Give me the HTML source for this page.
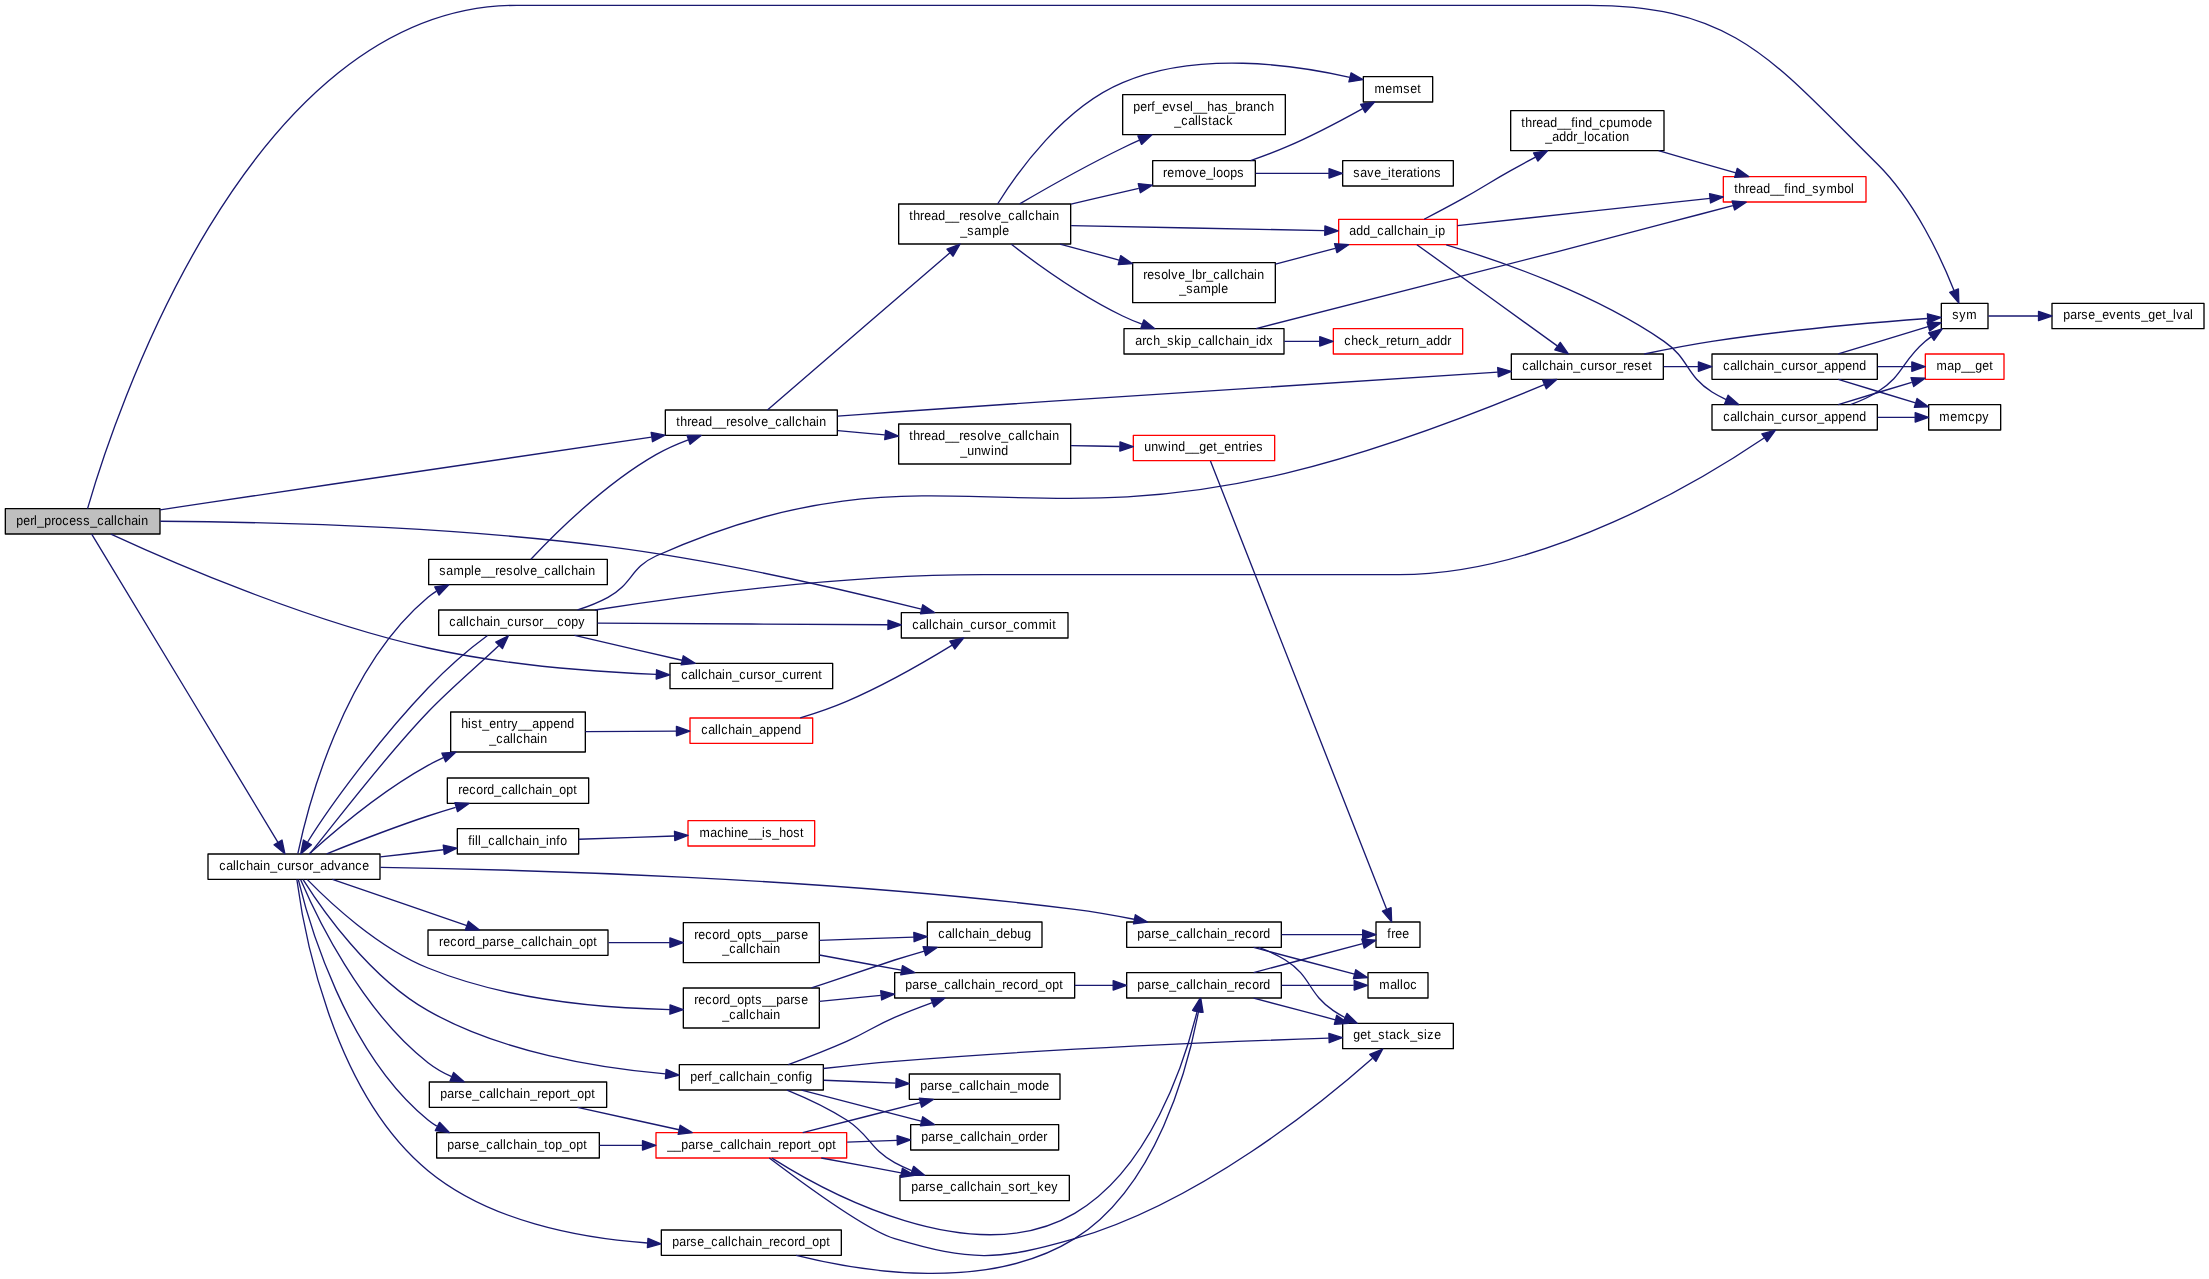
<!DOCTYPE html>
<html><head><meta charset="utf-8"><title>perl_process_callchain</title>
<style>
html,body{margin:0;padding:0;background:#fff;}
body{width:2209px;height:1279px;overflow:hidden;}
svg{display:block;will-change:transform;}
polygon{stroke-linejoin:round;}
text{text-rendering:geometricPrecision;font-family:"Liberation Sans",sans-serif;font-size:13.3333px;fill:#000;}
</style></head><body>
<svg width="2209" height="1279" viewBox="0 0 2209 1279">
<g transform="scale(1.3333333) translate(4.0 955.13)">
<polygon fill="#bfbfbf" stroke="black" points="0,-554.63 0,-573.63 116,-573.63 116,-554.63 0,-554.63"/>
<polygon fill="white" stroke="black" points="495,-628.63 495,-647.63 624,-647.63 624,-628.63 495,-628.63"/>
<path fill="none" stroke="midnightblue" d="M116.05,-572.74C127.93,-574.53 140.37,-576.39 152,-578.13 268.21,-595.45 403.15,-615.32 484.62,-627.29"/>
<polygon fill="midnightblue" stroke="midnightblue" points="484.37,-630.79 494.77,-628.78 485.39,-623.86 484.37,-630.79"/>
<polygon fill="white" stroke="black" points="1452,-708.63 1452,-727.63 1487,-727.63 1487,-708.63 1452,-708.63"/>
<path fill="none" stroke="midnightblue" d="M61.66,-573.69C78.85,-633.29 180.08,-951.13 383.5,-951.13 383.5,-951.13 383.5,-951.13 1187.5,-951.13 1297.3,-951.13 1325.88,-909.29 1404,-832.13 1432.04,-804.43 1451.68,-761.97 1461.44,-737.44"/>
<polygon fill="midnightblue" stroke="midnightblue" points="1464.81,-738.43 1465.12,-727.84 1458.27,-735.92 1464.81,-738.43"/>
<polygon fill="white" stroke="black" points="672,-476.63 672,-495.63 797,-495.63 797,-476.63 672,-476.63"/>
<path fill="none" stroke="midnightblue" d="M116.2,-564.19C192.92,-563.63 333.26,-560.34 452,-545.13 535.69,-534.4 631.55,-512.13 687.05,-498.23"/>
<polygon fill="midnightblue" stroke="midnightblue" points="688.09,-501.57 696.93,-495.73 686.38,-494.79 688.09,-501.57"/>
<polygon fill="white" stroke="black" points="498.5,-438.63 498.5,-457.63 620.5,-457.63 620.5,-438.63 498.5,-438.63"/>
<path fill="none" stroke="midnightblue" d="M79.17,-554.58C121.92,-534.83 225.23,-489.63 317,-469.13 373.75,-456.45 439.59,-451.34 488.18,-449.32"/>
<polygon fill="midnightblue" stroke="midnightblue" points="488.42,-452.82 498.28,-448.94 488.15,-445.82 488.42,-452.82"/>
<polygon fill="white" stroke="black" points="152,-295.63 152,-314.63 281,-314.63 281,-295.63 152,-295.63"/>
<path fill="none" stroke="midnightblue" d="M64.76,-554.6C87.81,-516.45 173.72,-374.28 204.47,-323.39"/>
<polygon fill="midnightblue" stroke="midnightblue" points="207.52,-325.11 209.69,-314.74 201.52,-321.49 207.52,-325.11"/>
<polygon fill="white" stroke="black" points="1129.5,-670.63 1129.5,-689.63 1243.5,-689.63 1243.5,-670.63 1129.5,-670.63"/>
<path fill="none" stroke="midnightblue" d="M624.13,-643.01C638.24,-644.06 653.13,-645.15 667,-646.13 829.53,-657.56 1020.8,-669.78 1119.37,-675.99"/>
<polygon fill="midnightblue" stroke="midnightblue" points="1119.28,-679.49 1129.48,-676.63 1119.72,-672.51 1119.28,-679.49"/>
<polygon fill="white" stroke="black" points="670,-772.13 670,-802.13 799,-802.13 799,-772.13 670,-772.13"/>
<path fill="none" stroke="midnightblue" d="M571.59,-647.68C598.95,-671.24 670.24,-732.64 708.45,-765.55"/>
<polygon fill="midnightblue" stroke="midnightblue" points="706.21,-768.25 716.08,-772.12 710.78,-762.94 706.21,-768.25"/>
<polygon fill="white" stroke="black" points="670,-607.13 670,-637.13 799,-637.13 799,-607.13 670,-607.13"/>
<path fill="none" stroke="midnightblue" d="M624.43,-632.22C635.89,-631.16 647.93,-630.04 659.64,-628.96"/>
<polygon fill="midnightblue" stroke="midnightblue" points="660.2,-632.42 669.84,-628.02 659.56,-625.45 660.2,-632.42"/>
<polygon fill="white" stroke="black" points="1280,-670.63 1280,-689.63 1404,-689.63 1404,-670.63 1280,-670.63"/>
<path fill="none" stroke="midnightblue" d="M1243.79,-680.13C1252.21,-680.13 1260.99,-680.13 1269.68,-680.13"/>
<polygon fill="midnightblue" stroke="midnightblue" points="1269.81,-683.63 1279.81,-680.13 1269.81,-676.63 1269.81,-683.63"/>
<path fill="none" stroke="midnightblue" d="M1229.24,-689.64C1245.07,-693.01 1263.31,-696.58 1280,-699.13 1337.16,-707.86 1404.72,-713.56 1441.43,-716.27"/>
<polygon fill="midnightblue" stroke="midnightblue" points="1441.56,-719.79 1451.79,-717.02 1442.06,-712.81 1441.56,-719.79"/>
<polygon fill="white" stroke="red" points="1440,-670.63 1440,-689.63 1499,-689.63 1499,-670.63 1440,-670.63"/>
<path fill="none" stroke="midnightblue" d="M1404.28,-680.13C1412.93,-680.13 1421.62,-680.13 1429.69,-680.13"/>
<polygon fill="midnightblue" stroke="midnightblue" points="1429.88,-683.63 1439.88,-680.13 1429.88,-676.63 1429.88,-683.63"/>
<path fill="none" stroke="midnightblue" d="M1374.67,-689.72C1395.47,-696.02 1422.38,-704.16 1442.04,-710.12"/>
<polygon fill="midnightblue" stroke="midnightblue" points="1441.27,-713.54 1451.86,-713.09 1443.3,-706.84 1441.27,-713.54"/>
<polygon fill="white" stroke="black" points="1442.5,-632.63 1442.5,-651.63 1496.5,-651.63 1496.5,-632.63 1442.5,-632.63"/>
<path fill="none" stroke="midnightblue" d="M1374.67,-670.54C1392.31,-665.2 1414.35,-658.53 1432.63,-652.99"/>
<polygon fill="midnightblue" stroke="midnightblue" points="1433.79,-656.3 1442.34,-650.05 1431.76,-649.6 1433.79,-656.3"/>
<polygon fill="white" stroke="black" points="1535,-708.63 1535,-727.63 1649,-727.63 1649,-708.63 1535,-708.63"/>
<path fill="none" stroke="midnightblue" d="M1487.26,-718.13C1497.3,-718.13 1510.79,-718.13 1524.72,-718.13"/>
<polygon fill="midnightblue" stroke="midnightblue" points="1524.9,-721.63 1534.9,-718.13 1524.9,-714.63 1524.9,-721.63"/>
<polygon fill="white" stroke="black" points="838,-854.13 838,-884.13 960,-884.13 960,-854.13 838,-854.13"/>
<path fill="none" stroke="midnightblue" d="M760.77,-802.23C781.26,-814.22 811.06,-831.08 838,-844.13 842.05,-846.09 846.3,-848.05 850.58,-849.96"/>
<polygon fill="midnightblue" stroke="midnightblue" points="849.38,-853.25 859.94,-854.03 852.17,-846.83 849.38,-853.25"/>
<polygon fill="white" stroke="black" points="845.5,-728.13 845.5,-758.13 952.5,-758.13 952.5,-728.13 845.5,-728.13"/>
<path fill="none" stroke="midnightblue" d="M790.97,-772.11C805.24,-768.25 820.69,-764.06 835.3,-760.11"/>
<polygon fill="midnightblue" stroke="midnightblue" points="836.51,-763.4 845.25,-757.41 834.68,-756.65 836.51,-763.4"/>
<polygon fill="white" stroke="red" points="1000,-771.63 1000,-790.63 1089,-790.63 1089,-771.63 1000,-771.63"/>
<path fill="none" stroke="midnightblue" d="M799.32,-785.88C855.48,-784.79 936.36,-783.22 989.4,-782.18"/>
<polygon fill="midnightblue" stroke="midnightblue" points="989.7,-785.68 999.63,-781.98 989.56,-778.68 989.7,-785.68"/>
<polygon fill="white" stroke="black" points="839,-689.63 839,-708.63 959,-708.63 959,-689.63 839,-689.63"/>
<path fill="none" stroke="midnightblue" d="M754.52,-771.87C774.37,-756.56 806.9,-733.14 838,-718.13 842.62,-715.9 847.56,-713.85 852.55,-711.99"/>
<polygon fill="midnightblue" stroke="midnightblue" points="853.85,-715.24 862.13,-708.64 851.54,-708.63 853.85,-715.24"/>
<polygon fill="white" stroke="black" points="1018.5,-878.63 1018.5,-897.63 1070.5,-897.63 1070.5,-878.63 1018.5,-878.63"/>
<path fill="none" stroke="midnightblue" d="M744.18,-802.14C759.46,-826.62 793.76,-874.64 838.00,-893.15 893.80,-916.98 966.10,-906.74 1008.39,-897.10"/>
<polygon fill="midnightblue" stroke="midnightblue" points="1009.31,-900.48 1018.21,-895.40 1007.67,-893.68 1009.31,-900.48"/>
<polygon fill="white" stroke="black" points="860.5,-815.63 860.5,-834.63 937.5,-834.63 937.5,-815.63 860.5,-815.63"/>
<path fill="none" stroke="midnightblue" d="M799.26,-802.04C816.18,-805.99 834.16,-810.2 850.08,-813.92"/>
<polygon fill="midnightblue" stroke="midnightblue" points="849.68,-817.42 860.21,-816.29 851.27,-810.61 849.68,-817.42"/>
<path fill="none" stroke="midnightblue" d="M952.62,-757.06C967.29,-760.95 983.12,-765.14 997.39,-768.92"/>
<polygon fill="midnightblue" stroke="midnightblue" points="996.91,-772.41 1007.47,-771.59 998.7,-765.64 996.91,-772.41"/>
<path fill="none" stroke="midnightblue" d="M1058.67,-771.63C1082.85,-754.18 1134.54,-716.89 1163.92,-695.7"/>
<polygon fill="midnightblue" stroke="midnightblue" points="1166.2,-698.37 1172.26,-689.68 1162.1,-692.69 1166.2,-698.37"/>
<polygon fill="white" stroke="black" points="1129,-842.13 1129,-872.13 1244,-872.13 1244,-842.13 1129,-842.13"/>
<path fill="none" stroke="midnightblue" d="M1064.1,-790.68C1072.91,-795.26 1083.55,-800.89 1093,-806.13 1109.2,-815.11 1112.82,-818.12 1129,-827.13 1135,-830.47 1141.39,-833.94 1147.64,-837.3"/>
<polygon fill="midnightblue" stroke="midnightblue" points="1146.17,-840.47 1156.64,-842.09 1149.46,-834.3 1146.17,-840.47"/>
<polygon fill="white" stroke="red" points="1288.5,-803.63 1288.5,-822.63 1395.5,-822.63 1395.5,-803.63 1288.5,-803.63"/>
<path fill="none" stroke="midnightblue" d="M1089.1,-785.85C1139.16,-791.27 1221.66,-800.2 1278.53,-806.36"/>
<polygon fill="midnightblue" stroke="midnightblue" points="1278.16,-809.84 1288.48,-807.44 1278.92,-802.88 1278.16,-809.84"/>
<polygon fill="white" stroke="black" points="1280,-632.63 1280,-651.63 1404,-651.63 1404,-632.63 1280,-632.63"/>
<path fill="none" stroke="midnightblue" d="M1080.7,-771.52C1122.19,-759.12 1192.07,-734.82 1244,-699.13 1263.17,-685.95 1260.25,-673.43 1280,-661.13 1283.35,-659.04 1286.94,-657.17 1290.65,-655.49"/>
<polygon fill="midnightblue" stroke="midnightblue" points="1292.06,-658.7 1300.02,-651.71 1289.44,-652.21 1292.06,-658.7"/>
<path fill="none" stroke="midnightblue" d="M1239.9,-842.11C1258.8,-836.69 1279.91,-830.64 1297.93,-825.47"/>
<polygon fill="midnightblue" stroke="midnightblue" points="1298.94,-828.83 1307.58,-822.71 1297.01,-822.1 1298.94,-828.83"/>
<path fill="none" stroke="midnightblue" d="M1374.67,-651.72C1391.42,-656.79 1412.13,-663.06 1429.83,-668.42"/>
<polygon fill="midnightblue" stroke="midnightblue" points="1429.26,-671.9 1439.85,-671.45 1431.29,-665.2 1429.26,-671.9"/>
<path fill="none" stroke="midnightblue" d="M1383.98,-651.71C1390.94,-654.21 1397.88,-657.32 1404,-661.13 1423.75,-673.43 1422.21,-684.14 1440,-699.13 1441.34,-700.26 1442.76,-701.39 1444.21,-702.49"/>
<polygon fill="midnightblue" stroke="midnightblue" points="1442.48,-705.55 1452.66,-708.48 1446.53,-699.84 1442.48,-705.55"/>
<path fill="none" stroke="midnightblue" d="M1404.28,-642.13C1413.83,-642.13 1423.43,-642.13 1432.19,-642.13"/>
<polygon fill="midnightblue" stroke="midnightblue" points="1432.4,-645.63 1442.4,-642.13 1432.4,-638.63 1432.4,-645.63"/>
<path fill="none" stroke="midnightblue" d="M938.05,-708.68C1002.90,-725.06 1133.70,-758.11 1244.00,-787.40 1260.37,-791.67 1279.19,-796.53 1295.64,-800.90"/>
<polygon fill="midnightblue" stroke="midnightblue" points="1295.09,-804.37 1305.67,-803.56 1296.98,-797.64 1295.09,-804.37"/>
<polygon fill="white" stroke="red" points="996,-689.63 996,-708.63 1093,-708.63 1093,-689.63 996,-689.63"/>
<path fill="none" stroke="midnightblue" d="M959.2,-699.13C967.96,-699.13 976.99,-699.13 985.73,-699.13"/>
<polygon fill="midnightblue" stroke="midnightblue" points="985.82,-702.63 995.82,-699.13 985.82,-695.63 985.82,-702.63"/>
<path fill="none" stroke="midnightblue" d="M933.96,-834.71C942.88,-837.76 952.49,-841.33 961.20,-845.13 980.79,-853.54 1002.02,-864.81 1018.00,-873.70"/>
<polygon fill="midnightblue" stroke="midnightblue" points="1016.47,-876.85 1026.91,-878.62 1019.85,-870.72 1016.47,-876.85"/>
<polygon fill="white" stroke="black" points="1003,-815.63 1003,-834.63 1086,-834.63 1086,-815.63 1003,-815.63"/>
<path fill="none" stroke="midnightblue" d="M937.7,-825.13C954.51,-825.13 974.56,-825.13 992.67,-825.13"/>
<polygon fill="midnightblue" stroke="midnightblue" points="992.78,-828.63 1002.78,-825.13 992.78,-821.63 992.78,-828.63"/>
<polygon fill="white" stroke="red" points="846,-609.63 846,-628.63 952,-628.63 952,-609.63 846,-609.63"/>
<path fill="none" stroke="midnightblue" d="M799.26,-620.95C811.22,-620.73 823.72,-620.5 835.64,-620.28"/>
<polygon fill="midnightblue" stroke="midnightblue" points="836.01,-623.77 845.95,-620.09 835.88,-616.77 836.01,-623.77"/>
<polygon fill="white" stroke="black" points="1028,-244.63 1028,-263.63 1061,-263.63 1061,-244.63 1028,-244.63"/>
<path fill="none" stroke="midnightblue" d="M903.84,-609.36C923.13,-560.29 1009.64,-340.25 1035.91,-273.43"/>
<polygon fill="midnightblue" stroke="midnightblue" points="1039.31,-274.34 1039.72,-263.75 1032.8,-271.78 1039.31,-274.34"/>
<polygon fill="white" stroke="black" points="325,-478.63 325,-497.63 444,-497.63 444,-478.63 325,-478.63"/>
<path fill="none" stroke="midnightblue" d="M228.32,-314.82C245.76,-335.8 281.73,-384.24 317,-421.13 334.17,-439.09 356.27,-457.57 370.17,-470.99"/>
<polygon fill="midnightblue" stroke="midnightblue" points="367.8,-473.58 377.3,-478.27 372.8,-468.68 367.8,-473.58"/>
<polygon fill="white" stroke="black" points="317,-238.63 317,-257.63 452,-257.63 452,-238.63 317,-238.63"/>
<path fill="none" stroke="midnightblue" d="M245.28,-295.59C272.93,-286.09 315.55,-271.46 346.15,-260.95"/>
<polygon fill="midnightblue" stroke="midnightblue" points="347.3,-264.26 355.62,-257.7 345.03,-257.64 347.3,-264.26"/>
<polygon fill="white" stroke="black" points="331.5,-352.63 331.5,-371.63 437.5,-371.63 437.5,-352.63 331.5,-352.63"/>
<path fill="none" stroke="midnightblue" d="M241.02,-314.77C261.05,-322.82 290.68,-334.36 317,-343.13 323.66,-345.35 330.74,-347.54 337.71,-349.61"/>
<polygon fill="midnightblue" stroke="midnightblue" points="337.2,-353.11 347.78,-352.54 339.15,-346.38 337.2,-353.11"/>
<polygon fill="white" stroke="black" points="508.5,-184.13 508.5,-214.13 610.5,-214.13 610.5,-184.13 508.5,-184.13"/>
<path fill="none" stroke="midnightblue" d="M226.56,-295.43C242.86,-278.69 278.97,-244.67 317,-229.13 375.54,-205.2 448.19,-199 498.43,-197.97"/>
<polygon fill="midnightblue" stroke="midnightblue" points="498.54,-201.47 508.49,-197.83 498.44,-194.47 498.54,-201.47"/>
<polygon fill="white" stroke="black" points="317.5,-516.63 317.5,-535.63 451.5,-535.63 451.5,-516.63 317.5,-516.63"/>
<path fill="none" stroke="midnightblue" d="M219.37,-314.87C226.15,-347.39 252.48,-453.26 317,-507.13 319.02,-508.81 321.17,-510.35 323.43,-511.74"/>
<polygon fill="midnightblue" stroke="midnightblue" points="322.08,-514.99 332.57,-516.49 325.31,-508.78 322.08,-514.99"/>
<polygon fill="white" stroke="black" points="334,-391.13 334,-421.13 435,-421.13 435,-391.13 334,-391.13"/>
<path fill="none" stroke="midnightblue" d="M227.82,-314.67C245.13,-330.29 281.63,-361.53 317,-381.13 320.7,-383.18 324.61,-385.13 328.59,-386.97"/>
<polygon fill="midnightblue" stroke="midnightblue" points="327.42,-390.27 337.98,-391.06 330.21,-383.86 327.42,-390.27"/>
<polygon fill="white" stroke="black" points="339,-314.63 339,-333.63 430,-333.63 430,-314.63 339,-314.63"/>
<path fill="none" stroke="midnightblue" d="M281.21,-312.42C296.81,-314.2 313.37,-316.1 328.52,-317.84"/>
<polygon fill="midnightblue" stroke="midnightblue" points="328.42,-321.35 338.76,-319.01 329.22,-314.39 328.42,-321.35"/>
<polygon fill="white" stroke="black" points="841,-244.63 841,-263.63 957,-263.63 957,-244.63 841,-244.63"/>
<path fill="none" stroke="midnightblue" d="M281.33,-304.57C389.08,-302.96 613.69,-296.8 802,-273.13 816.51,-271.3 832.13,-268.56 846.45,-265.71"/>
<polygon fill="midnightblue" stroke="midnightblue" points="847.53,-269.07 856.62,-263.64 846.13,-262.21 847.53,-269.07"/>
<polygon fill="white" stroke="black" points="492,-13.63 492,-32.63 627,-32.63 627,-13.63 492,-13.63"/>
<path fill="none" stroke="midnightblue" d="M218.62,-295.51C223.28,-260.25 244.37,-137.03 317,-77.13 362.91,-39.26 429.84,-26.57 481.6,-22.88"/>
<polygon fill="midnightblue" stroke="midnightblue" points="481.98,-26.37 491.74,-22.26 481.55,-19.38 481.98,-26.37"/>
<polygon fill="white" stroke="black" points="318,-124.63 318,-143.63 451,-143.63 451,-124.63 318,-124.63"/>
<path fill="none" stroke="midnightblue" d="M221.51,-295.34C232.67,-269.23 266.65,-197.29 317,-158.13 322.34,-153.98 328.46,-150.5 334.78,-147.6"/>
<polygon fill="midnightblue" stroke="midnightblue" points="336.2,-150.8 344.11,-143.75 333.53,-144.33 336.2,-150.8"/>
<polygon fill="white" stroke="black" points="323.5,-86.63 323.5,-105.63 445.5,-105.63 445.5,-86.63 323.5,-86.63"/>
<path fill="none" stroke="midnightblue" d="M219.67,-295.53C227.19,-264.41 255.21,-165.44 317,-115.13 319.08,-113.44 321.3,-111.9 323.62,-110.49"/>
<polygon fill="midnightblue" stroke="midnightblue" points="325.67,-113.38 333,-105.73 322.5,-107.14 325.67,-113.38"/>
<polygon fill="white" stroke="black" points="505.5,-137.63 505.5,-156.63 613.5,-156.63 613.5,-137.63 505.5,-137.63"/>
<path fill="none" stroke="midnightblue" d="M223.33,-295.49C236.86,-274.04 272.63,-222.25 317,-197.13 372.07,-165.94 444.06,-154.1 495.07,-149.66"/>
<polygon fill="midnightblue" stroke="midnightblue" points="495.61,-153.13 505.3,-148.84 495.06,-146.15 495.61,-153.13"/>
<path fill="none" stroke="midnightblue" d="M429.14,-497.66C436.99,-500.19 444.92,-503.31 452,-507.13 470.58,-517.15 468.73,-529.5 488,-538.13 681.13,-624.55 754.27,-550.71 960,-600.13 1031.2,-617.23 1111.26,-648.71 1154.22,-666.66"/>
<polygon fill="midnightblue" stroke="midnightblue" points="1152.99,-669.94 1163.57,-670.59 1155.71,-663.49 1152.99,-669.94"/>
<path fill="none" stroke="midnightblue" d="M442.28,-497.63C511.02,-508.3 630.4,-524.13 733.5,-524.13 733.5,-524.13 733.5,-524.13 1045.5,-524.13 1155,-524.13 1272.1,-594.88 1319.37,-626.81"/>
<polygon fill="midnightblue" stroke="midnightblue" points="1317.4,-629.7 1327.62,-632.47 1321.36,-623.93 1317.4,-629.7"/>
<path fill="none" stroke="midnightblue" d="M444.14,-487.79C504.17,-487.45 597.55,-486.91 661.91,-486.54"/>
<polygon fill="midnightblue" stroke="midnightblue" points="662,-490.04 671.98,-486.48 661.96,-483.04 662,-490.04"/>
<path fill="none" stroke="midnightblue" d="M426.94,-478.55C451.12,-472.96 481.82,-465.86 507.48,-459.93"/>
<polygon fill="midnightblue" stroke="midnightblue" points="508.45,-463.29 517.4,-457.63 506.87,-456.47 508.45,-463.29"/>
<path fill="none" stroke="midnightblue" d="M361.64,-478.54C348.22,-468.71 330.97,-453.74 317,-439.13 280.64,-401.09 243.53,-350.79 226.75,-323.62"/>
<polygon fill="midnightblue" stroke="midnightblue" points="229.6,-321.58 221.52,-314.72 223.57,-325.12 229.6,-321.58"/>
<polygon fill="white" stroke="black" points="508.5,-233.13 508.5,-263.13 610.5,-263.13 610.5,-233.13 508.5,-233.13"/>
<path fill="none" stroke="midnightblue" d="M452.39,-248.13C467.53,-248.13 483.52,-248.13 498.36,-248.13"/>
<polygon fill="midnightblue" stroke="midnightblue" points="498.43,-251.63 508.43,-248.13 498.43,-244.63 498.43,-251.63"/>
<polygon fill="white" stroke="black" points="667,-206.63 667,-225.63 802,-225.63 802,-206.63 667,-206.63"/>
<path fill="none" stroke="midnightblue" d="M610.54,-238.87C629.75,-235.32 651.89,-231.22 672.05,-227.49"/>
<polygon fill="midnightblue" stroke="midnightblue" points="672.88,-230.9 682.07,-225.64 671.6,-224.02 672.88,-230.9"/>
<polygon fill="white" stroke="black" points="691.5,-244.63 691.5,-263.63 777.5,-263.63 777.5,-244.63 691.5,-244.63"/>
<path fill="none" stroke="midnightblue" d="M610.54,-249.86C632.78,-250.63 658.96,-251.54 681.43,-252.32"/>
<polygon fill="midnightblue" stroke="midnightblue" points="681.35,-255.82 691.46,-252.67 681.59,-248.83 681.35,-255.82"/>
<polygon fill="white" stroke="black" points="841,-206.63 841,-225.63 957,-225.63 957,-206.63 841,-206.63"/>
<path fill="none" stroke="midnightblue" d="M802.06,-216.13C811.53,-216.13 821.26,-216.13 830.74,-216.13"/>
<polygon fill="midnightblue" stroke="midnightblue" points="830.89,-219.63 840.89,-216.13 830.89,-212.63 830.89,-219.63"/>
<path fill="none" stroke="midnightblue" d="M936.21,-225.72C961.73,-232.47 995.27,-241.36 1018.01,-247.38"/>
<polygon fill="midnightblue" stroke="midnightblue" points="1017.36,-250.83 1027.92,-250 1019.15,-244.06 1017.36,-250.83"/>
<polygon fill="white" stroke="black" points="1022,-206.63 1022,-225.63 1067,-225.63 1067,-206.63 1022,-206.63"/>
<path fill="none" stroke="midnightblue" d="M957.13,-216.13C975.54,-216.13 995.3,-216.13 1011.27,-216.13"/>
<polygon fill="midnightblue" stroke="midnightblue" points="1011.65,-219.63 1021.65,-216.13 1011.65,-212.63 1011.65,-219.63"/>
<polygon fill="white" stroke="black" points="1003,-168.63 1003,-187.63 1086,-187.63 1086,-168.63 1003,-168.63"/>
<path fill="none" stroke="midnightblue" d="M936.21,-206.54C954.82,-201.61 977.7,-195.55 997.54,-190.3"/>
<polygon fill="midnightblue" stroke="midnightblue" points="998.53,-193.66 1007.3,-187.71 996.74,-186.89 998.53,-193.66"/>
<path fill="none" stroke="midnightblue" d="M610.54,-204.04C624.95,-205.46 641.01,-207.04 656.64,-208.58"/>
<polygon fill="midnightblue" stroke="midnightblue" points="656.54,-212.08 666.83,-209.58 657.22,-205.12 656.54,-212.08"/>
<path fill="none" stroke="midnightblue" d="M604.59,-214.14C631,-223.12 660.66,-233.15 667,-235.13 674.17,-237.36 681.81,-239.64 689.26,-241.81"/>
<polygon fill="midnightblue" stroke="midnightblue" points="688.31,-245.18 698.89,-244.58 690.25,-238.45 688.31,-245.18"/>
<path fill="none" stroke="midnightblue" d="M394.18,-535.69C410.79,-553.46 448.89,-591.8 488,-614.13 495.51,-618.41 503.9,-622.1 512.2,-625.2"/>
<polygon fill="midnightblue" stroke="midnightblue" points="511.26,-628.58 521.85,-628.58 513.57,-621.97 511.26,-628.58"/>
<polygon fill="white" stroke="red" points="513.5,-397.63 513.5,-416.63 605.5,-416.63 605.5,-397.63 513.5,-397.63"/>
<path fill="none" stroke="midnightblue" d="M435.07,-406.41C456.37,-406.54 481.33,-406.68 503.21,-406.81"/>
<polygon fill="midnightblue" stroke="midnightblue" points="503.33,-410.31 513.35,-406.87 503.37,-403.31 503.33,-410.31"/>
<path fill="none" stroke="midnightblue" d="M596.16,-416.7C607.47,-420.15 619.92,-424.38 631,-429.13 659.24,-441.23 689.8,-458.87 710.13,-471.31"/>
<polygon fill="midnightblue" stroke="midnightblue" points="708.37,-474.34 718.71,-476.63 712.05,-468.39 708.37,-474.34"/>
<polygon fill="white" stroke="red" points="512,-320.63 512,-339.63 607,-339.63 607,-320.63 512,-320.63"/>
<path fill="none" stroke="midnightblue" d="M430.05,-325.67C451.94,-326.43 478.56,-327.36 501.88,-328.16"/>
<polygon fill="midnightblue" stroke="midnightblue" points="501.87,-331.67 511.98,-328.51 502.11,-324.67 501.87,-331.67"/>
<path fill="none" stroke="midnightblue" d="M957.13,-254.13C978.16,-254.13 1000.94,-254.13 1017.82,-254.13"/>
<polygon fill="midnightblue" stroke="midnightblue" points="1017.99,-257.63 1027.99,-254.13 1017.99,-250.63 1017.99,-257.63"/>
<path fill="none" stroke="midnightblue" d="M936.21,-244.54C959.54,-238.36 989.57,-230.41 1011.93,-224.49"/>
<polygon fill="midnightblue" stroke="midnightblue" points="1012.84,-227.87 1021.61,-221.93 1011.05,-221.1 1012.84,-227.87"/>
<path fill="none" stroke="midnightblue" d="M939.99,-244.59C946.94,-242.07 953.89,-238.96 960,-235.13 979.72,-222.78 976.75,-210.2 996,-197.13 998.72,-195.28 1001.64,-193.57 1004.66,-192"/>
<polygon fill="midnightblue" stroke="midnightblue" points="1006.29,-195.1 1013.86,-187.68 1003.32,-188.76 1006.29,-195.1"/>
<path fill="none" stroke="midnightblue" d="M593.14,-13.61C642.5,-1.26 737.25,14.26 802,-26.13 863.63,-64.57 887.21,-155.96 894.84,-196.35"/>
<polygon fill="midnightblue" stroke="midnightblue" points="891.41,-197.06 896.59,-206.3 898.31,-195.85 891.41,-197.06"/>
<polygon fill="white" stroke="red" points="488,-86.63 488,-105.63 631,-105.63 631,-86.63 488,-86.63"/>
<path fill="none" stroke="midnightblue" d="M429.16,-124.54C452.29,-119.46 480.9,-113.17 505.33,-107.81"/>
<polygon fill="midnightblue" stroke="midnightblue" points="506.14,-111.21 515.16,-105.65 504.64,-104.37 506.14,-111.21"/>
<path fill="none" stroke="midnightblue" d="M574.96,-86.49C614.26,-61.61 725.26,-0.21 802,-45.13 858.72,-78.33 884.48,-158.68 893.73,-196.21"/>
<polygon fill="midnightblue" stroke="midnightblue" points="890.42,-197.42 896.08,-206.38 897.24,-195.84 890.42,-197.42"/>
<path fill="none" stroke="midnightblue" d="M572.96,-86.61C596.4,-68.93 646.54,-32.25 667,-26.13 724.48,-8.93 744.35,-9.5 802,-26.13 895.37,-53.07 987.45,-127.97 1025.39,-161.51"/>
<polygon fill="midnightblue" stroke="midnightblue" points="1023.26,-164.31 1033.05,-168.37 1027.94,-159.09 1023.26,-164.31"/>
<polygon fill="white" stroke="black" points="678,-130.63 678,-149.63 791,-149.63 791,-130.63 678,-130.63"/>
<path fill="none" stroke="midnightblue" d="M598.04,-105.68C623.88,-112.25 658.42,-121.03 686.15,-128.09"/>
<polygon fill="midnightblue" stroke="midnightblue" points="685.48,-131.53 696.03,-130.6 687.21,-124.74 685.48,-131.53"/>
<polygon fill="white" stroke="black" points="679,-92.63 679,-111.63 790,-111.63 790,-92.63 679,-92.63"/>
<path fill="none" stroke="midnightblue" d="M631.36,-98.59C643.76,-99.02 656.59,-99.46 668.81,-99.88"/>
<polygon fill="midnightblue" stroke="midnightblue" points="668.79,-103.39 678.9,-100.23 669.03,-96.39 668.79,-103.39"/>
<polygon fill="white" stroke="black" points="671,-54.63 671,-73.63 798,-73.63 798,-54.63 671,-54.63"/>
<path fill="none" stroke="midnightblue" d="M611.94,-86.61C630.77,-83.13 652.26,-79.15 671.89,-75.52"/>
<polygon fill="midnightblue" stroke="midnightblue" points="672.77,-78.92 681.96,-73.66 671.49,-72.04 672.77,-78.92"/>
<path fill="none" stroke="midnightblue" d="M445.52,-96.13C455.88,-96.13 466.79,-96.13 477.59,-96.13"/>
<polygon fill="midnightblue" stroke="midnightblue" points="477.88,-99.63 487.88,-96.13 477.88,-92.63 477.88,-99.63"/>
<path fill="none" stroke="midnightblue" d="M587.2,-156.65C600.49,-161.57 616.73,-167.84 631,-174.13 647.37,-181.34 650.56,-185.08 667,-192.13 676.04,-196 685.94,-199.81 695.28,-203.2"/>
<polygon fill="midnightblue" stroke="midnightblue" points="694.14,-206.51 704.74,-206.58 696.49,-199.92 694.14,-206.51"/>
<path fill="none" stroke="midnightblue" d="M613.53,-153.76C630.58,-155.71 649.57,-157.71 667,-159.13 783.26,-168.6 920.14,-174.09 992.57,-176.56"/>
<polygon fill="midnightblue" stroke="midnightblue" points="992.66,-180.06 1002.77,-176.9 992.9,-173.07 992.66,-180.06"/>
<path fill="none" stroke="midnightblue" d="M613.82,-144.97C630.83,-144.28 649.86,-143.51 667.66,-142.79"/>
<polygon fill="midnightblue" stroke="midnightblue" points="668.11,-146.28 677.97,-142.37 667.83,-139.28 668.11,-146.28"/>
<path fill="none" stroke="midnightblue" d="M597.19,-137.58C623.34,-130.78 658.7,-121.59 686.85,-114.26"/>
<polygon fill="midnightblue" stroke="midnightblue" points="688.07,-117.56 696.86,-111.66 686.3,-110.79 688.07,-117.56"/>
<path fill="none" stroke="midnightblue" d="M586.26,-137.62C600.05,-132 617.03,-124.21 631,-115.13 648.95,-103.46 648.24,-93.44 667,-83.13 671.02,-80.92 675.31,-78.95 679.71,-77.19"/>
<polygon fill="midnightblue" stroke="midnightblue" points="681.24,-80.37 689.46,-73.68 678.86,-73.78 681.24,-80.37"/>
</g>
<g>
<text transform="matrix(0.9300 0 0 1 5.787 0)" x="11.25 18.77 26.19 30.45 33.83 41.35 48.77 53.18 60.71 68.23 75.76 83.29 90.82 98.34 105.87 113.25 116.47 119.85 127.37 134.90 142.28 145.65" y="525.00">perl_process_callchain</text>
<text transform="matrix(0.9300 0 0 1 52.593 0)" x="670.48 674.89 682.31 686.72 694.25 701.78 709.30 716.83 724.24 728.66 736.18 743.71 751.09 754.46 761.99 769.52 777.04 784.57 791.95 795.17 798.55 806.08 813.60 820.98 824.36" y="426.00">thread__resolve_callchain</text>
<text transform="matrix(0.9300 0 0 1 137.527 0)" x="1951.31 1958.84 1966.51" y="319.00">sym</text>
<text transform="matrix(0.9300 0 0 1 68.927 0)" x="906.79 914.32 921.70 924.92 928.30 935.83 943.35 950.73 954.11 961.63 969.16 976.69 984.10 988.51 996.04 1003.46 1007.87 1015.40 1022.92 1030.60 1042.43 1053.96 1057.22" y="629.00">callchain_cursor_commit</text>
<text transform="matrix(0.9300 0 0 1 52.593 0)" x="675.97 683.50 690.87 694.10 697.47 705.00 712.53 719.91 723.28 730.81 738.34 745.86 753.28 757.69 765.22 772.63 777.04 784.57 792.10 799.51 803.81 808.23 815.75 823.17" y="679.00">callchain_cursor_current</text>
<text transform="matrix(0.9300 0 0 1 20.580 0)" x="213.62 221.15 228.52 231.75 235.12 242.65 250.18 257.55 260.93 268.46 275.98 283.51 290.92 295.34 302.87 310.28 314.69 322.22 329.75 337.27 344.80 352.33 359.85 367.38" y="870.00">callchain_cursor_advance</text>
<text transform="matrix(0.9300 0 0 1 111.113 0)" x="1517.35 1524.87 1532.25 1535.47 1538.85 1546.38 1553.91 1561.28 1564.66 1572.18 1579.71 1587.24 1594.65 1599.07 1606.59 1614.01 1618.42 1625.84 1630.25 1637.78 1645.30 1652.72" y="370.00">callchain_cursor_reset</text>
<text transform="matrix(0.9300 0 0 1 68.927 0)" x="903.46 907.87 915.28 919.70 927.22 934.75 942.28 949.80 957.22 961.63 969.16 976.69 984.06 987.44 994.97 1002.49 1010.02 1017.55 1024.92 1028.15 1031.53 1039.05 1046.58 1053.96 1057.33" y="220.00">thread__resolve_callchain</text>
<text transform="matrix(0.9300 0 0 1 68.927 0)" x="958.41 965.93 973.46 981.14 992.82 1000.19 1003.57" y="235.00">_sample</text>
<text transform="matrix(0.9300 0 0 1 68.927 0)" x="903.46 907.87 915.28 919.70 927.22 934.75 942.28 949.80 957.22 961.63 969.16 976.69 984.06 987.44 994.97 1002.49 1010.02 1017.55 1024.92 1028.15 1031.53 1039.05 1046.58 1053.96 1057.33" y="440.00">thread__resolve_callchain</text>
<text transform="matrix(0.9300 0 0 1 68.927 0)" x="958.41 965.93 973.46 981.10 991.59 994.97 1002.49" y="455.00">_unwind</text>
<text transform="matrix(0.9300 0 0 1 125.627 0)" x="1717.87 1725.40 1732.77 1736.00 1739.37 1746.90 1754.43 1761.80 1765.18 1772.71 1780.23 1787.76 1795.18 1799.59 1807.12 1814.53 1818.94 1826.47 1834.00 1841.53 1849.05 1856.58 1864.11" y="370.00">callchain_cursor_append</text>
<text transform="matrix(0.9300 0 0 1 137.527 0)" x="1934.26 1945.93 1953.46 1960.99 1968.51 1976.04 1983.57 1990.98" y="370.00">map__get</text>
<text transform="matrix(0.9300 0 0 1 137.527 0)" x="1937.48 1949.16 1956.84 1968.51 1976.04 1983.57" y="421.00">memcpy</text>
<text transform="matrix(0.9300 0 0 1 148.960 0)" x="2058.37 2065.90 2073.31 2077.73 2085.25 2092.78 2100.31 2107.83 2115.36 2122.89 2130.30 2134.72 2142.24 2149.77 2157.30 2164.71 2169.12 2176.50 2179.88 2187.40 2194.78" y="319.00">parse_events_get_lval</text>
<text transform="matrix(0.9300 0 0 1 84.280 0)" x="1127.92 1135.45 1142.86 1147.16 1151.58 1159.10 1166.63 1174.16 1181.68 1189.06 1192.44 1199.96 1207.49 1215.02 1222.54 1230.07 1237.60 1245.01 1249.42 1256.95 1264.48 1272.01" y="111.00">perf_evsel__has_branch</text>
<text transform="matrix(0.9300 0 0 1 84.280 0)" x="1172.01 1179.53 1187.06 1194.44 1197.66 1201.04 1208.45 1212.87 1220.39 1227.92" y="125.00">_callstack</text>
<text transform="matrix(0.9300 0 0 1 84.280 0)" x="1138.56 1142.97 1150.50 1158.03 1165.40 1168.78 1176.31 1183.83 1191.21 1194.59 1202.00 1206.41 1213.94 1221.47 1228.84 1232.07 1235.45 1242.97 1250.50 1257.88 1261.25" y="279.00">resolve_lbr_callchain</text>
<text transform="matrix(0.9300 0 0 1 84.280 0)" x="1177.38 1184.91 1192.44 1200.11 1211.79 1219.17 1222.54" y="293.00">_sample</text>
<text transform="matrix(0.9300 0 0 1 97.860 0)" x="1345.58 1353.10 1360.63 1368.16 1375.68 1383.21 1390.59 1393.81 1397.19 1404.72 1412.24 1419.62 1422.99 1430.52 1437.90 1441.27" y="235.00">add_callchain_ip</text>
<text transform="matrix(0.9300 0 0 1 84.280 0)" x="1130.07 1137.48 1141.90 1149.42 1156.95 1164.48 1172.01 1179.38 1182.76 1190.28 1197.81 1205.34 1212.72 1215.94 1219.32 1226.84 1234.37 1241.75 1245.12 1252.65 1260.03 1263.40 1270.93" y="345.00">arch_skip_callchain_idx</text>
<text transform="matrix(0.9300 0 0 1 97.860 0)" x="1372.61 1384.28 1391.96 1403.64 1411.17 1418.58" y="93.00">memset</text>
<text transform="matrix(0.9300 0 0 1 84.280 0)" x="1160.06 1164.48 1172.16 1183.83 1191.36 1198.89 1206.41 1213.79 1217.17 1224.69 1232.22 1239.75" y="177.00">remove_loops</text>
<text transform="matrix(0.9300 0 0 1 111.113 0)" x="1516.16 1520.57 1527.99 1532.40 1539.93 1547.45 1554.98 1562.51 1569.92 1574.18 1577.56 1585.09 1592.61 1600.14 1607.67 1615.20 1622.87 1634.55 1642.08 1649.60" y="127.00">thread__find_cpumode</text>
<text transform="matrix(0.9300 0 0 1 111.113 0)" x="1542.08 1549.60 1557.13 1564.66 1572.07 1576.49 1583.86 1587.24 1594.77 1602.29 1609.71 1613.97 1617.35 1624.87" y="141.00">_addr_location</text>
<text transform="matrix(0.9300 0 0 1 125.627 0)" x="1729.58 1734.00 1741.41 1745.83 1753.35 1760.88 1768.41 1775.93 1783.35 1787.61 1790.99 1798.51 1806.04 1813.57 1821.09 1828.77 1840.45 1847.98 1855.35" y="193.00">thread__find_symbol</text>
<text transform="matrix(0.9300 0 0 1 125.627 0)" x="1717.87 1725.40 1732.77 1736.00 1739.37 1746.90 1754.43 1761.80 1765.18 1772.71 1780.23 1787.76 1795.18 1799.59 1807.12 1814.53 1818.94 1826.47 1834.00 1841.53 1849.05 1856.58 1864.11" y="421.00">callchain_cursor_append</text>
<text transform="matrix(0.9300 0 0 1 97.860 0)" x="1340.20 1347.73 1355.25 1362.78 1370.31 1377.83 1385.25 1389.66 1397.08 1401.49 1408.90 1413.32 1420.84 1428.37 1435.90 1443.42 1450.84" y="345.00">check_return_addr</text>
<text transform="matrix(0.9300 0 0 1 97.860 0)" x="1349.88 1357.40 1364.93 1372.46 1379.98 1387.36 1390.62 1395.04 1402.45 1406.87 1414.28 1418.54 1421.92 1429.45 1436.97" y="177.00">save_iterations</text>
<text transform="matrix(0.9300 0 0 1 84.280 0)" x="1139.75 1147.27 1154.91 1165.40 1168.78 1176.31 1183.83 1191.36 1198.89 1206.41 1213.83 1218.24 1225.77 1233.30 1240.71 1245.01 1249.27 1252.65 1260.18" y="451.00">unwind__get_entries</text>
<text transform="matrix(0.9300 0 0 1 97.860 0)" x="1386.32 1390.62 1395.04 1402.56" y="938.00">free</text>
<text transform="matrix(0.9300 0 0 1 36.260 0)" x="444.07 451.60 458.97 462.20 465.58 473.10 480.63 488.01 491.38 498.91 506.44 513.96 521.38 525.79 533.32 540.73 545.15 552.67 560.20 567.73 575.25 582.78" y="626.00">callchain_cursor__copy</text>
<text transform="matrix(0.9300 0 0 1 36.260 0)" x="433.20 437.62 445.15 452.67 460.09 464.50 472.03 479.55 487.08 494.49 498.91 506.44 513.96 521.49 529.02 536.39 539.62 542.99 550.52 558.05 565.42 568.80 576.33 583.85 591.38 598.80" y="946.00">record_parse_callchain_opt</text>
<text transform="matrix(0.9300 0 0 1 36.260 0)" x="453.63 458.05 465.58 473.10 480.52 484.93 492.46 499.98 507.51 514.89 518.11 521.49 529.02 536.54 543.92 547.30 554.82 562.35 569.88 577.29" y="794.00">record_callchain_opt</text>
<text transform="matrix(0.9300 0 0 1 52.593 0)" x="689.84 694.25 701.78 709.30 716.72 721.13 728.66 736.18 743.71 751.13 755.54 763.07 770.59 778.12 785.65 793.06 797.47 805.00" y="1004.00">record_opts__parse</text>
<text transform="matrix(0.9300 0 0 1 52.593 0)" x="720.06 727.58 735.11 742.49 745.71 749.09 756.61 764.14 771.52 774.89" y="1019.00">_callchain</text>
<text transform="matrix(0.9300 0 0 1 36.260 0)" x="433.32 440.84 448.52 460.20 467.58 470.95 478.48 486.01 493.42 497.83 505.36 512.89 520.26 523.64 531.17 538.69 546.22 553.75 561.12 564.35 567.73 575.25 582.78 590.16 593.53" y="575.00">sample__resolve_callchain</text>
<text transform="matrix(0.9300 0 0 1 36.260 0)" x="456.97 464.35 467.73 475.14 479.55 487.08 494.61 502.02 506.32 510.74 518.26 525.79 533.32 540.84 548.37 555.90 563.42 570.95" y="728.00">hist_entry__append</text>
<text transform="matrix(0.9300 0 0 1 36.260 0)" x="487.08 494.61 502.13 509.51 512.74 516.11 523.64 531.17 538.54 541.92" y="743.00">_callchain</text>
<text transform="matrix(0.9300 0 0 1 36.260 0)" x="464.39 468.65 471.88 475.10 478.48 486.01 493.53 500.91 504.13 507.51 515.04 522.56 529.94 533.32 540.84 548.22 551.60 559.01 563.42" y="845.00">fill_callchain_info</text>
<text transform="matrix(0.9300 0 0 1 84.280 0)" x="1132.22 1139.75 1147.16 1151.58 1159.10 1166.63 1174.16 1181.68 1189.06 1192.28 1195.66 1203.19 1210.72 1218.09 1221.47 1228.99 1236.41 1240.82 1248.35 1255.88 1263.29 1267.70" y="938.00">parse_callchain_record</text>
<text transform="matrix(0.9300 0 0 1 52.593 0)" x="666.29 673.82 681.23 685.65 693.17 700.70 708.23 715.75 723.13 726.36 729.73 737.26 744.79 752.16 755.54 763.07 770.48 774.89 782.42 789.95 797.36 801.78 809.30 816.83 824.36 831.77" y="1246.00">parse_callchain_record_opt</text>
<text transform="matrix(0.9300 0 0 1 36.260 0)" x="434.39 441.92 449.33 453.75 461.27 468.80 476.33 483.85 491.23 494.46 497.83 505.36 512.89 520.26 523.64 531.17 538.58 542.99 550.52 558.05 565.46 569.76 574.18 581.70 589.23 596.65" y="1098.00">parse_callchain_report_opt</text>
<text transform="matrix(0.9300 0 0 1 36.260 0)" x="441.92 449.45 456.86 461.27 468.80 476.33 483.85 491.38 498.76 501.98 505.36 512.89 520.41 527.79 531.17 538.69 546.11 550.52 558.05 565.58 573.10 580.63 588.04" y="1149.00">parse_callchain_top_opt</text>
<text transform="matrix(0.9300 0 0 1 52.593 0)" x="685.65 693.17 700.59 704.89 709.30 716.83 724.36 731.73 734.96 738.34 745.86 753.39 760.77 764.14 771.67 779.20 786.72 794.25 801.66 805.93 809.30" y="1081.00">perf_callchain_config</text>
<text transform="matrix(0.9300 0 0 1 52.593 0)" x="689.84 694.25 701.78 709.30 716.72 721.13 728.66 736.18 743.71 751.13 755.54 763.07 770.59 778.12 785.65 793.06 797.47 805.00" y="939.00">record_opts__parse</text>
<text transform="matrix(0.9300 0 0 1 52.593 0)" x="720.06 727.58 735.11 742.49 745.71 749.09 756.61 764.14 771.52 774.89" y="953.00">_callchain</text>
<text transform="matrix(0.9300 0 0 1 68.927 0)" x="899.27 906.79 914.21 918.62 926.15 933.68 941.20 948.73 956.11 959.33 962.71 970.23 977.76 985.14 988.51 996.04 1003.46 1007.87 1015.40 1022.92 1030.34 1034.75 1042.28 1049.80 1057.33 1064.75" y="989.00">parse_callchain_record_opt</text>
<text transform="matrix(0.9300 0 0 1 68.927 0)" x="934.75 942.28 949.65 952.88 956.26 963.78 971.31 978.69 982.06 989.59 997.12 1004.64 1012.17 1019.70 1027.22" y="938.00">callchain_debug</text>
<text transform="matrix(0.9300 0 0 1 84.280 0)" x="1132.22 1139.75 1147.16 1151.58 1159.10 1166.63 1174.16 1181.68 1189.06 1192.28 1195.66 1203.19 1210.72 1218.09 1221.47 1228.99 1236.41 1240.82 1248.35 1255.88 1263.29 1267.70" y="989.00">parse_callchain_record</text>
<text transform="matrix(0.9300 0 0 1 97.860 0)" x="1377.98 1389.66 1397.04 1400.26 1403.64 1411.17" y="989.00">malloc</text>
<text transform="matrix(0.9300 0 0 1 97.860 0)" x="1349.88 1357.40 1364.82 1369.23 1376.76 1384.17 1388.59 1396.11 1403.64 1411.17 1418.69 1426.07 1429.45 1436.97" y="1039.00">get_stack_size</text>
<text transform="matrix(0.9300 0 0 1 52.593 0)" x="697.47 705.00 712.38 715.60 718.98 726.51 734.03 741.41 744.79 752.31 759.84 767.37 774.89 782.42 789.95 797.47" y="734.00">callchain_append</text>
<text transform="matrix(0.9300 0 0 1 52.593 0)" x="695.47 707.15 714.68 722.21 729.58 732.96 740.49 748.01 755.54 762.92 766.29 773.82 781.35 788.87 796.40 803.81" y="837.00">machine__is_host</text>
<text transform="matrix(0.9300 0 0 1 52.593 0)" x="660.92 668.44 675.97 683.50 690.91 695.32 702.85 710.38 717.91 725.43 732.81 736.03 739.41 746.94 754.46 761.84 765.22 772.74 780.16 784.57 792.10 799.63 807.04 811.34 815.75 823.28 830.81 838.22" y="1149.00">__parse_callchain_report_opt</text>
<text transform="matrix(0.9300 0 0 1 68.927 0)" x="915.40 922.92 930.34 934.75 942.28 949.80 957.33 964.86 972.23 975.46 978.84 986.36 993.89 1001.27 1004.64 1012.17 1019.85 1031.53 1039.05 1046.58" y="1090.00">parse_callchain_mode</text>
<text transform="matrix(0.9300 0 0 1 68.927 0)" x="916.47 924.00 931.41 935.83 943.35 950.88 958.41 965.93 973.31 976.54 979.91 987.44 994.97 1002.34 1005.72 1013.25 1020.77 1028.19 1032.60 1040.13 1047.54" y="1141.00">parse_callchain_order</text>
<text transform="matrix(0.9300 0 0 1 68.927 0)" x="905.72 913.25 920.66 925.07 932.60 940.13 947.65 955.18 962.56 965.78 969.16 976.69 984.21 991.59 994.97 1002.49 1010.02 1017.55 1024.96 1029.26 1033.68 1041.20 1048.73 1056.26" y="1191.00">parse_callchain_sort_key</text>
</g>
</svg>
</body></html>
